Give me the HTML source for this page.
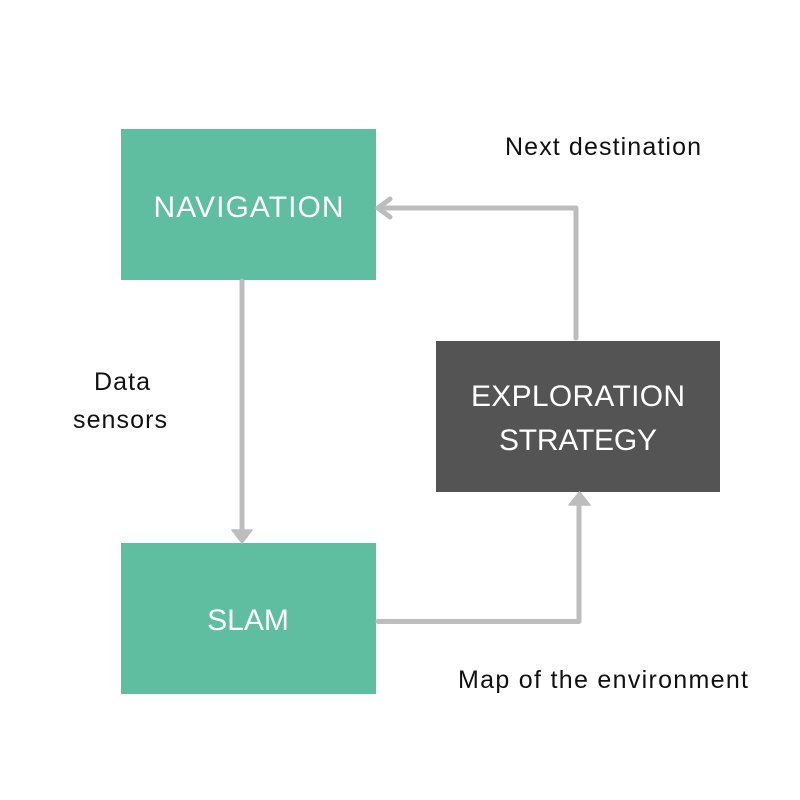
<!DOCTYPE html>
<html>
<head>
<meta charset="utf-8">
<style>
  html, body { margin: 0; padding: 0; background: #ffffff; }
  svg { display: block; }
  .box-text { font-family: "Liberation Sans", sans-serif; font-size: 30px; fill: #ffffff; }
  .label { font-family: "Liberation Sans", sans-serif; font-size: 25px; fill: #111111; }
</style>
</head>
<body>
<svg width="800" height="800" viewBox="0 0 800 800" xmlns="http://www.w3.org/2000/svg">
  <rect x="0" y="0" width="800" height="800" fill="#ffffff"/>

  <!-- Boxes -->
  <rect x="121" y="129" width="255" height="151" fill="#5fbda0"/>
  <rect x="121" y="543" width="255" height="151" fill="#5fbda0"/>
  <rect x="436" y="341" width="284" height="151" fill="#545454"/>

  <!-- Connectors -->
  <g stroke="#bdbdbd" stroke-width="5" fill="none" stroke-linecap="round" stroke-linejoin="round">
    <line x1="242" y1="281" x2="242" y2="532"/>
    <polyline points="378,621.5 579,621.5 579,504"/>
    <polyline points="576,338 576,208 380,208"/>
    <polyline points="390,199 378,208 390,217"/>
  </g>
  <polygon points="232,530 252,530 242,543" fill="#bdbdbd" stroke="#bdbdbd" stroke-width="1.5" stroke-linejoin="round"/>
  <polygon points="569,505 590,505 579.5,492" fill="#bdbdbd" stroke="#bdbdbd" stroke-width="1.5" stroke-linejoin="round"/>

  <!-- Box labels -->
  <text class="box-text" x="248.5" y="217" text-anchor="middle" textLength="190" lengthAdjust="spacing">NAVIGATION</text>
  <text class="box-text" x="248" y="630" text-anchor="middle" font-size="29">SLAM</text>
  <text class="box-text" x="578" y="406" text-anchor="middle" textLength="214" lengthAdjust="spacing">EXPLORATION</text>
  <text class="box-text" x="578" y="450" text-anchor="middle" textLength="158" lengthAdjust="spacing">STRATEGY</text>

  <!-- Connector labels -->
  <text class="label" x="505" y="155" textLength="196" lengthAdjust="spacing">Next destination</text>
  <text class="label" x="94" y="390" textLength="56" lengthAdjust="spacing">Data</text>
  <text class="label" x="73" y="428" textLength="94" lengthAdjust="spacing">sensors</text>
  <text class="label" x="458" y="688" textLength="290" lengthAdjust="spacing">Map of the environment</text>
</svg>
</body>
</html>
